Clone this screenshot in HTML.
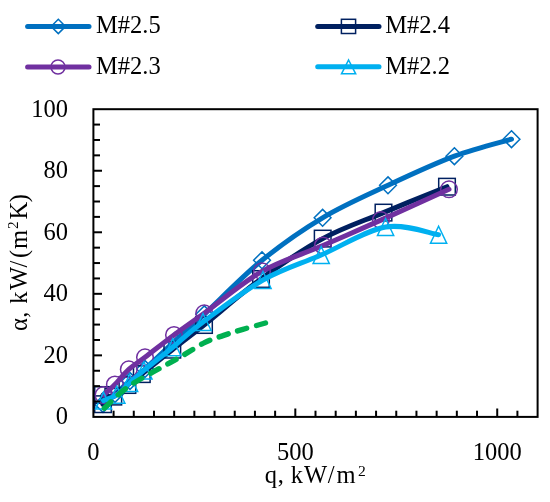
<!DOCTYPE html>
<html><head><meta charset="utf-8"><style>
html,body{margin:0;padding:0;background:#fff;}
svg{display:block;}
</style></head><body>
<svg width="550" height="502" viewBox="0 0 550 502">
<rect width="550" height="502" fill="#fff"/>
<line x1="27.60" y1="26.40" x2="89.00" y2="26.40" stroke="#0070C0" stroke-width="5" stroke-linecap="round"/><path d="M58.3,19.2 L65.5,26.4 L58.3,33.6 L51.1,26.4 Z" fill="none" stroke="#0070C0" stroke-width="1.5"/><text x="96.00" y="33.30" font-family="'Liberation Serif', 'DejaVu Serif', serif" font-size="24.5">M#2.5</text><line x1="317.70" y1="26.40" x2="379.00" y2="26.40" stroke="#002060" stroke-width="5" stroke-linecap="round"/><rect x="341.4" y="19.3" width="14.2" height="14.2" fill="none" stroke="#002060" stroke-width="1.5"/><text x="385.30" y="33.30" font-family="'Liberation Serif', 'DejaVu Serif', serif" font-size="24.5">M#2.4</text><line x1="27.60" y1="67.00" x2="89.00" y2="67.00" stroke="#7030A0" stroke-width="5" stroke-linecap="round"/><circle cx="58" cy="67" r="7" fill="none" stroke="#7030A0" stroke-width="1.5"/><text x="96.00" y="73.90" font-family="'Liberation Serif', 'DejaVu Serif', serif" font-size="24.5">M#2.3</text><line x1="317.70" y1="66.80" x2="379.00" y2="66.80" stroke="#00B0F0" stroke-width="5" stroke-linecap="round"/><path d="M348.6,60 L355.7,73.8 L341.5,73.8 Z" fill="none" stroke="#00B0F0" stroke-width="1.5"/><text x="385.30" y="73.70" font-family="'Liberation Serif', 'DejaVu Serif', serif" font-size="24.5">M#2.2</text>
<path d="M103.00,404.00 C105.00,402.33 110.50,397.83 115.00,394.00 C119.50,390.17 125.00,385.17 130.00,381.00 C135.00,376.83 137.53,375.67 145.00,369.00 C152.47,362.33 164.92,350.12 174.80,341.00 C184.68,331.88 189.77,327.75 204.30,314.30 C218.83,300.85 242.28,276.38 262.00,260.30 C281.72,244.22 301.60,230.30 322.60,217.80 C343.60,205.30 366.03,195.57 388.00,185.30 C409.97,175.03 433.82,163.88 454.40,156.20 C474.98,148.52 501.98,142.03 511.50,139.20" fill="none" stroke="#0070C0" stroke-width="5" stroke-linecap="round" stroke-linejoin="round"/><path d="M103.00,395.60 L111.40,404.00 L103.00,412.40 L94.60,404.00 Z" fill="none" stroke="#0070C0" stroke-width="1.50"/><path d="M115.00,385.60 L123.40,394.00 L115.00,402.40 L106.60,394.00 Z" fill="none" stroke="#0070C0" stroke-width="1.50"/><path d="M130.00,372.60 L138.40,381.00 L130.00,389.40 L121.60,381.00 Z" fill="none" stroke="#0070C0" stroke-width="1.50"/><path d="M145.00,360.60 L153.40,369.00 L145.00,377.40 L136.60,369.00 Z" fill="none" stroke="#0070C0" stroke-width="1.50"/><path d="M174.80,332.60 L183.20,341.00 L174.80,349.40 L166.40,341.00 Z" fill="none" stroke="#0070C0" stroke-width="1.50"/><path d="M204.30,305.90 L212.70,314.30 L204.30,322.70 L195.90,314.30 Z" fill="none" stroke="#0070C0" stroke-width="1.50"/><path d="M262.00,251.90 L270.40,260.30 L262.00,268.70 L253.60,260.30 Z" fill="none" stroke="#0070C0" stroke-width="1.50"/><path d="M322.60,209.40 L331.00,217.80 L322.60,226.20 L314.20,217.80 Z" fill="none" stroke="#0070C0" stroke-width="1.50"/><path d="M388.00,176.90 L396.40,185.30 L388.00,193.70 L379.60,185.30 Z" fill="none" stroke="#0070C0" stroke-width="1.50"/><path d="M454.40,147.80 L462.80,156.20 L454.40,164.60 L446.00,156.20 Z" fill="none" stroke="#0070C0" stroke-width="1.50"/><path d="M511.50,130.80 L519.90,139.20 L511.50,147.60 L503.10,139.20 Z" fill="none" stroke="#0070C0" stroke-width="1.50"/><path d="M103.00,404.20 C103.00,402.67 101.28,396.27 103.00,395.00 C104.72,393.73 109.23,398.27 113.30,396.60 C117.37,394.93 122.65,388.75 127.40,385.00 C132.15,381.25 134.32,379.98 141.80,374.10 C149.28,368.22 161.93,357.88 172.30,349.70 C182.67,341.52 189.22,336.78 204.00,325.00 C218.78,313.22 241.22,293.40 261.00,279.00 C280.78,264.60 302.28,249.67 322.70,238.60 C343.12,227.53 362.78,221.25 383.50,212.60 C404.22,203.95 436.42,191.02 447.00,186.70" fill="none" stroke="#002060" stroke-width="5" stroke-linecap="round" stroke-linejoin="round"/><rect x="94.70" y="395.90" width="16.60" height="16.60" fill="none" stroke="#002060" stroke-width="1.50"/><rect x="94.70" y="386.70" width="16.60" height="16.60" fill="none" stroke="#002060" stroke-width="1.50"/><rect x="105.00" y="388.30" width="16.60" height="16.60" fill="none" stroke="#002060" stroke-width="1.50"/><rect x="119.10" y="376.70" width="16.60" height="16.60" fill="none" stroke="#002060" stroke-width="1.50"/><rect x="133.50" y="365.80" width="16.60" height="16.60" fill="none" stroke="#002060" stroke-width="1.50"/><rect x="164.00" y="341.40" width="16.60" height="16.60" fill="none" stroke="#002060" stroke-width="1.50"/><rect x="195.70" y="316.70" width="16.60" height="16.60" fill="none" stroke="#002060" stroke-width="1.50"/><rect x="252.70" y="270.70" width="16.60" height="16.60" fill="none" stroke="#002060" stroke-width="1.50"/><rect x="314.40" y="230.30" width="16.60" height="16.60" fill="none" stroke="#002060" stroke-width="1.50"/><rect x="375.20" y="204.30" width="16.60" height="16.60" fill="none" stroke="#002060" stroke-width="1.50"/><rect x="438.70" y="178.40" width="16.60" height="16.60" fill="none" stroke="#002060" stroke-width="1.50"/><path d="M103.50,395.10 C105.40,393.33 110.68,388.78 114.90,384.50 C119.12,380.22 123.78,373.93 128.80,369.40 C133.82,364.87 137.47,363.03 145.00,357.30 C152.53,351.57 164.13,342.33 174.00,335.00 C183.87,327.67 189.53,323.90 204.20,313.30 C218.87,302.70 242.20,282.70 262.00,271.40 C281.80,260.10 303.18,254.05 323.00,245.50 C342.82,236.95 359.90,229.47 380.90,220.10 C401.90,210.73 437.65,194.43 449.00,189.30" fill="none" stroke="#7030A0" stroke-width="5" stroke-linecap="round" stroke-linejoin="round"/><circle cx="103.50" cy="395.10" r="8.30" fill="none" stroke="#7030A0" stroke-width="1.50"/><circle cx="114.90" cy="384.50" r="8.30" fill="none" stroke="#7030A0" stroke-width="1.50"/><circle cx="128.80" cy="369.40" r="8.30" fill="none" stroke="#7030A0" stroke-width="1.50"/><circle cx="145.00" cy="357.30" r="8.30" fill="none" stroke="#7030A0" stroke-width="1.50"/><circle cx="174.00" cy="335.00" r="8.30" fill="none" stroke="#7030A0" stroke-width="1.50"/><circle cx="204.20" cy="313.30" r="8.30" fill="none" stroke="#7030A0" stroke-width="1.50"/><circle cx="262.00" cy="271.40" r="8.30" fill="none" stroke="#7030A0" stroke-width="1.50"/><circle cx="323.00" cy="245.50" r="8.30" fill="none" stroke="#7030A0" stroke-width="1.50"/><circle cx="380.90" cy="220.10" r="8.30" fill="none" stroke="#7030A0" stroke-width="1.50"/><circle cx="449.00" cy="189.30" r="8.30" fill="none" stroke="#7030A0" stroke-width="1.50"/><path d="M103.50,400.60 C105.72,399.63 112.45,397.73 116.80,394.80 C121.15,391.87 125.08,387.07 129.60,383.00 C134.12,378.93 136.70,376.37 143.90,370.40 C151.10,364.43 162.95,355.27 172.80,347.20 C182.65,339.13 187.97,333.20 203.00,322.00 C218.03,310.80 243.30,291.17 263.00,280.00 C282.70,268.83 300.77,263.83 321.20,255.00 C341.63,246.17 366.03,230.38 385.60,227.00 C405.17,223.62 429.77,233.42 438.60,234.70" fill="none" stroke="#00B0F0" stroke-width="5" stroke-linecap="round" stroke-linejoin="round"/><path d="M103.50,392.10 L111.60,409.10 L95.40,409.10 Z" fill="none" stroke="#00B0F0" stroke-width="1.50" stroke-linejoin="miter"/><path d="M116.80,386.30 L124.90,403.30 L108.70,403.30 Z" fill="none" stroke="#00B0F0" stroke-width="1.50" stroke-linejoin="miter"/><path d="M129.60,374.50 L137.70,391.50 L121.50,391.50 Z" fill="none" stroke="#00B0F0" stroke-width="1.50" stroke-linejoin="miter"/><path d="M143.90,361.90 L152.00,378.90 L135.80,378.90 Z" fill="none" stroke="#00B0F0" stroke-width="1.50" stroke-linejoin="miter"/><path d="M172.80,338.70 L180.90,355.70 L164.70,355.70 Z" fill="none" stroke="#00B0F0" stroke-width="1.50" stroke-linejoin="miter"/><path d="M203.00,313.50 L211.10,330.50 L194.90,330.50 Z" fill="none" stroke="#00B0F0" stroke-width="1.50" stroke-linejoin="miter"/><path d="M263.00,271.50 L271.10,288.50 L254.90,288.50 Z" fill="none" stroke="#00B0F0" stroke-width="1.50" stroke-linejoin="miter"/><path d="M321.20,246.50 L329.30,263.50 L313.10,263.50 Z" fill="none" stroke="#00B0F0" stroke-width="1.50" stroke-linejoin="miter"/><path d="M385.60,218.50 L393.70,235.50 L377.50,235.50 Z" fill="none" stroke="#00B0F0" stroke-width="1.50" stroke-linejoin="miter"/><path d="M438.60,226.20 L446.70,243.20 L430.50,243.20 Z" fill="none" stroke="#00B0F0" stroke-width="1.50" stroke-linejoin="miter"/><path d="M104.30,408.20 C108.58,404.42 117.92,393.70 130.00,385.50 C142.08,377.30 164.30,366.18 176.80,359.00 C189.30,351.82 197.18,346.33 205.00,342.40 C212.82,338.47 217.53,337.53 223.70,335.40 C229.87,333.27 235.03,331.67 242.00,329.60 C248.97,327.53 261.58,324.10 265.50,323.00" fill="none" stroke="#00B050" stroke-width="5.4" stroke-linecap="round" stroke-dasharray="9.4 10.05"/>
<line x1="93.40" y1="401.51" x2="100.00" y2="401.51" stroke="#000" stroke-width="2"/><line x1="93.40" y1="386.13" x2="100.00" y2="386.13" stroke="#000" stroke-width="2"/><line x1="93.40" y1="370.75" x2="100.00" y2="370.75" stroke="#000" stroke-width="2"/><line x1="93.40" y1="355.36" x2="102.00" y2="355.36" stroke="#000" stroke-width="2"/><line x1="93.40" y1="339.97" x2="100.00" y2="339.97" stroke="#000" stroke-width="2"/><line x1="93.40" y1="324.59" x2="100.00" y2="324.59" stroke="#000" stroke-width="2"/><line x1="93.40" y1="309.20" x2="100.00" y2="309.20" stroke="#000" stroke-width="2"/><line x1="93.40" y1="293.82" x2="102.00" y2="293.82" stroke="#000" stroke-width="2"/><line x1="93.40" y1="278.44" x2="100.00" y2="278.44" stroke="#000" stroke-width="2"/><line x1="93.40" y1="263.05" x2="100.00" y2="263.05" stroke="#000" stroke-width="2"/><line x1="93.40" y1="247.66" x2="100.00" y2="247.66" stroke="#000" stroke-width="2"/><line x1="93.40" y1="232.28" x2="102.00" y2="232.28" stroke="#000" stroke-width="2"/><line x1="93.40" y1="216.89" x2="100.00" y2="216.89" stroke="#000" stroke-width="2"/><line x1="93.40" y1="201.51" x2="100.00" y2="201.51" stroke="#000" stroke-width="2"/><line x1="93.40" y1="186.12" x2="100.00" y2="186.12" stroke="#000" stroke-width="2"/><line x1="93.40" y1="170.74" x2="102.00" y2="170.74" stroke="#000" stroke-width="2"/><line x1="93.40" y1="155.36" x2="100.00" y2="155.36" stroke="#000" stroke-width="2"/><line x1="93.40" y1="139.97" x2="100.00" y2="139.97" stroke="#000" stroke-width="2"/><line x1="93.40" y1="124.58" x2="100.00" y2="124.58" stroke="#000" stroke-width="2"/><line x1="113.59" y1="416.90" x2="113.59" y2="410.70" stroke="#000" stroke-width="2"/><line x1="133.78" y1="416.90" x2="133.78" y2="410.70" stroke="#000" stroke-width="2"/><line x1="153.97" y1="416.90" x2="153.97" y2="410.70" stroke="#000" stroke-width="2"/><line x1="174.16" y1="416.90" x2="174.16" y2="410.70" stroke="#000" stroke-width="2"/><line x1="194.35" y1="416.90" x2="194.35" y2="410.70" stroke="#000" stroke-width="2"/><line x1="214.55" y1="416.90" x2="214.55" y2="410.70" stroke="#000" stroke-width="2"/><line x1="234.74" y1="416.90" x2="234.74" y2="410.70" stroke="#000" stroke-width="2"/><line x1="254.93" y1="416.90" x2="254.93" y2="410.70" stroke="#000" stroke-width="2"/><line x1="275.12" y1="416.90" x2="275.12" y2="410.70" stroke="#000" stroke-width="2"/><line x1="295.31" y1="416.90" x2="295.31" y2="408.50" stroke="#000" stroke-width="2"/><line x1="315.50" y1="416.90" x2="315.50" y2="410.70" stroke="#000" stroke-width="2"/><line x1="335.69" y1="416.90" x2="335.69" y2="410.70" stroke="#000" stroke-width="2"/><line x1="355.88" y1="416.90" x2="355.88" y2="410.70" stroke="#000" stroke-width="2"/><line x1="376.07" y1="416.90" x2="376.07" y2="410.70" stroke="#000" stroke-width="2"/><line x1="396.26" y1="416.90" x2="396.26" y2="410.70" stroke="#000" stroke-width="2"/><line x1="416.45" y1="416.90" x2="416.45" y2="410.70" stroke="#000" stroke-width="2"/><line x1="436.65" y1="416.90" x2="436.65" y2="410.70" stroke="#000" stroke-width="2"/><line x1="456.84" y1="416.90" x2="456.84" y2="410.70" stroke="#000" stroke-width="2"/><line x1="477.03" y1="416.90" x2="477.03" y2="410.70" stroke="#000" stroke-width="2"/><line x1="497.22" y1="416.90" x2="497.22" y2="408.50" stroke="#000" stroke-width="2"/><line x1="517.41" y1="416.90" x2="517.41" y2="410.70" stroke="#000" stroke-width="2"/>
<rect x="93.40" y="109.20" width="444.20" height="307.70" fill="none" stroke="#000" stroke-width="2"/>
<text x="68" y="424.20" text-anchor="end" font-family="'Liberation Serif', 'DejaVu Serif', serif" font-size="24.5">0</text><text x="68" y="362.66" text-anchor="end" font-family="'Liberation Serif', 'DejaVu Serif', serif" font-size="24.5">20</text><text x="68" y="301.12" text-anchor="end" font-family="'Liberation Serif', 'DejaVu Serif', serif" font-size="24.5">40</text><text x="68" y="239.58" text-anchor="end" font-family="'Liberation Serif', 'DejaVu Serif', serif" font-size="24.5">60</text><text x="68" y="178.04" text-anchor="end" font-family="'Liberation Serif', 'DejaVu Serif', serif" font-size="24.5">80</text><text x="68" y="116.50" text-anchor="end" font-family="'Liberation Serif', 'DejaVu Serif', serif" font-size="24.5">100</text><text x="93.40" y="460.3" text-anchor="middle" font-family="'Liberation Serif', 'DejaVu Serif', serif" font-size="24.5">0</text><text x="295.31" y="460.3" text-anchor="middle" font-family="'Liberation Serif', 'DejaVu Serif', serif" font-size="24.5">500</text><text x="497.22" y="460.3" text-anchor="middle" font-family="'Liberation Serif', 'DejaVu Serif', serif" font-size="24.5">1000</text><text x="264.81" y="483.00" font-family="'Liberation Serif', 'DejaVu Serif', serif" font-size="24.5">q</text><text x="277.67" y="483.00" font-family="'Liberation Serif', 'DejaVu Serif', serif" font-size="24.5">,</text><text x="290.73" y="483.00" font-family="'Liberation Serif', 'DejaVu Serif', serif" font-size="24.5">k</text><text x="303.88" y="483.00" font-family="'Liberation Serif', 'DejaVu Serif', serif" font-size="24.5">W</text><text x="327.80" y="483.00" font-family="'Liberation Serif', 'DejaVu Serif', serif" font-size="24.5">/</text><text x="336.39" y="483.00" font-family="'Liberation Serif', 'DejaVu Serif', serif" font-size="24.5">m</text><text x="358.01" y="475.70" font-family="'Liberation Serif', 'DejaVu Serif', serif" font-size="15.6">2</text><g transform="translate(26.7,0) rotate(-90)"><text x="-331.03" y="0.00" font-family="'Liberation Serif', 'DejaVu Serif', serif" font-size="24.5">&#945;</text><text x="-317.73" y="0.00" font-family="'Liberation Serif', 'DejaVu Serif', serif" font-size="24.5">,</text><text x="-303.87" y="0.00" font-family="'Liberation Serif', 'DejaVu Serif', serif" font-size="24.5">k</text><text x="-289.92" y="0.00" font-family="'Liberation Serif', 'DejaVu Serif', serif" font-size="24.5">W</text><text x="-267.40" y="0.00" font-family="'Liberation Serif', 'DejaVu Serif', serif" font-size="24.5">/</text><text x="-257.88" y="0.00" font-family="'Liberation Serif', 'DejaVu Serif', serif" font-size="24.5">(</text><text x="-249.11" y="0.00" font-family="'Liberation Serif', 'DejaVu Serif', serif" font-size="24.5">m</text><text x="-229.07" y="-8.30" font-family="'Liberation Serif', 'DejaVu Serif', serif" font-size="15.2">2</text><text x="-219.51" y="0.00" font-family="'Liberation Serif', 'DejaVu Serif', serif" font-size="24.5">K</text><text x="-202.19" y="0.00" font-family="'Liberation Serif', 'DejaVu Serif', serif" font-size="24.5">)</text></g>
</svg>
</body></html>
